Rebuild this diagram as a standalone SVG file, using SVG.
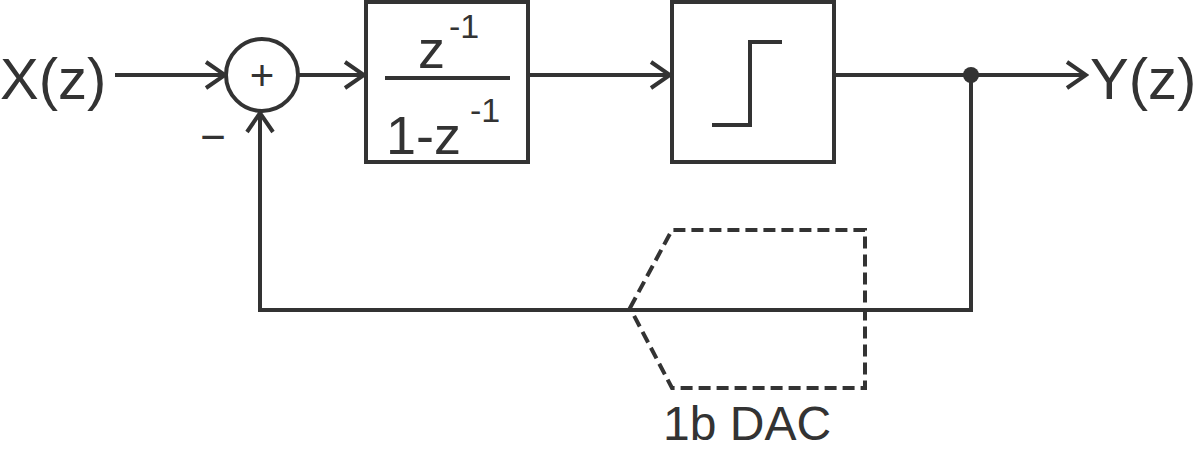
<svg xmlns="http://www.w3.org/2000/svg" width="1197" height="452" viewBox="0 0 1197 452">
<style>
.l{stroke:#333;stroke-width:4;fill:none}
.t{font-family:"Liberation Sans",Arial,sans-serif;fill:#333}
</style>
<defs>
<marker id="b" viewBox="0 0 30 30" refX="27" refY="15" markerWidth="30" markerHeight="30" orient="auto" markerUnits="userSpaceOnUse"><path d="M8,2 L27,15 L8,28" fill="none" stroke="#333" stroke-width="4"/></marker></defs>
<rect width="1197" height="452" fill="#fff"/>
<g id="x"><text class="t" x="0" y="99" font-size="58">X(z)</text></g>
<g id="sum"><circle class="l" cx="262" cy="75" r="36"/><text class="t" x="262" y="90" font-size="42" text-anchor="middle">+</text><text class="t" x="213" y="152" font-size="44" text-anchor="middle">−</text></g>
<g id="integ"><rect class="l" x="366" y="2" width="162" height="160"/><line class="l" x1="385" y1="78" x2="510" y2="78"/><text class="t" x="418" y="68" font-size="54">z</text><text class="t" x="449" y="38" font-size="34">-1</text><text class="t" x="386" y="154" font-size="54">1-z</text><text class="t" x="470" y="122" font-size="34">-1</text></g>
<g id="quant"><rect class="l" x="672" y="2" width="162" height="160"/><path class="l" d="M712,125 H750 V42 H782"/></g>
<g id="y"><text class="t" x="1090" y="99" font-size="58">Y(z)</text></g>
<g id="dac"><path class="l" stroke-dasharray="12,6" d="M630,308 L672,230 H865 V388 H672 Z"/><text class="t" x="663" y="440" font-size="48">1b DAC</text></g>
<g id="conn">
<line class="l" x1="115" y1="75" x2="225" y2="75" marker-end="url(#b)"/>
<line class="l" x1="298" y1="75" x2="364" y2="75" marker-end="url(#b)"/>
<line class="l" x1="528" y1="75" x2="670" y2="75" marker-end="url(#b)"/>
<line class="l" x1="834" y1="75" x2="1086" y2="75" marker-end="url(#b)"/>
<circle cx="971" cy="75" r="8" fill="#333"/>
<path class="l" d="M971,75 V310 H260 V113" marker-end="url(#b)"/>
</g>
</svg>
